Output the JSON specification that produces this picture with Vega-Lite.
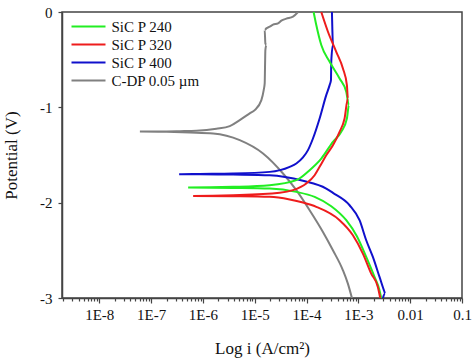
{
  "$schema": "https://vega.github.io/schema/vega-lite/v6.json",
  "width": 400,
  "height": 286,
  "autosize": {"type": "none"},
  "padding": {"left": 62, "top": 12, "right": 12, "bottom": 66},
  "background": "white",
  "config": {
    "view": {"stroke": "#444", "strokeWidth": 1.5},
    "font": "Liberation Serif, Times New Roman, DejaVu Serif, serif"
  },
  "data": {
    "values": [
      {"s": "C-DP 0.05 µm", "o": 1, "i": 6.84e-5, "E": 0},
      {"s": "C-DP 0.05 µm", "o": 2, "i": 5.48e-5, "E": -0.049},
      {"s": "C-DP 0.05 µm", "o": 3, "i": 4.07e-5, "E": -0.070},
      {"s": "C-DP 0.05 µm", "o": 4, "i": 3.265e-5, "E": -0.091},
      {"s": "C-DP 0.05 µm", "o": 5, "i": 2.815e-5, "E": -0.119},
      {"s": "C-DP 0.05 µm", "o": 6, "i": 2.255e-5, "E": -0.133},
      {"s": "C-DP 0.05 µm", "o": 7, "i": 1.945e-5, "E": -0.154},
      {"s": "C-DP 0.05 µm", "o": 8, "i": 1.678e-5, "E": -0.172},
      {"s": "C-DP 0.05 µm", "o": 9, "i": 1.558e-5, "E": -0.189},
      {"s": "C-DP 0.05 µm", "o": 10, "i": 1.605e-5, "E": -0.329},
      {"s": "C-DP 0.05 µm", "o": 11, "i": 1.678e-5, "E": -0.347},
      {"s": "C-DP 0.05 µm", "o": 12, "i": 1.605e-5, "E": -0.399},
      {"s": "C-DP 0.05 µm", "o": 13, "i": 1.581e-5, "E": -0.574},
      {"s": "C-DP 0.05 µm", "o": 14, "i": 1.558e-5, "E": -0.749},
      {"s": "C-DP 0.05 µm", "o": 15, "i": 1.491e-5, "E": -0.819},
      {"s": "C-DP 0.05 µm", "o": 16, "i": 1.344e-5, "E": -0.924},
      {"s": "C-DP 0.05 µm", "o": 17, "i": 1.0e-5, "E": -1.029},
      {"s": "C-DP 0.05 µm", "o": 18, "i": 8.01e-6, "E": -1.064},
      {"s": "C-DP 0.05 µm", "o": 19, "i": 5.14e-6, "E": -1.134},
      {"s": "C-DP 0.05 µm", "o": 20, "i": 3.30e-6, "E": -1.197},
      {"s": "C-DP 0.05 µm", "o": 21, "i": 1.825e-6, "E": -1.225},
      {"s": "C-DP 0.05 µm", "o": 22, "i": 7.52e-7, "E": -1.246},
      {"s": "C-DP 0.05 µm", "o": 23, "i": 3.59e-7, "E": -1.250},
      {"s": "C-DP 0.05 µm", "o": 24, "i": 1.479e-7, "E": -1.253},
      {"s": "C-DP 0.05 µm", "o": 25, "i": 6.08e-8, "E": -1.253},
      {"s": "C-DP 0.05 µm", "o": 26, "i": 1.99e-7, "E": -1.257},
      {"s": "C-DP 0.05 µm", "o": 27, "i": 5.60e-7, "E": -1.264},
      {"s": "C-DP 0.05 µm", "o": 28, "i": 1.574e-6, "E": -1.274},
      {"s": "C-DP 0.05 µm", "o": 29, "i": 5.14e-6, "E": -1.344},
      {"s": "C-DP 0.05 µm", "o": 30, "i": 1.448e-5, "E": -1.484},
      {"s": "C-DP 0.05 µm", "o": 31, "i": 3.515e-5, "E": -1.694},
      {"s": "C-DP 0.05 µm", "o": 32, "i": 6.35e-5, "E": -1.869},
      {"s": "C-DP 0.05 µm", "o": 33, "i": 1.147e-4, "E": -2.079},
      {"s": "C-DP 0.05 µm", "o": 34, "i": 2.073e-4, "E": -2.307},
      {"s": "C-DP 0.05 µm", "o": 35, "i": 3.23e-4, "E": -2.499},
      {"s": "C-DP 0.05 µm", "o": 36, "i": 5.04e-4, "E": -2.709},
      {"s": "C-DP 0.05 µm", "o": 37, "i": 6.28e-4, "E": -2.849},
      {"s": "C-DP 0.05 µm", "o": 38, "i": 7.51e-4, "E": -3.0},

      {"s": "SiC P 400", "o": 1, "i": 3.09e-4, "E": 0},
      {"s": "SiC P 400", "o": 2, "i": 3.14e-4, "E": -0.154},
      {"s": "SiC P 400", "o": 3, "i": 3.23e-4, "E": -0.347},
      {"s": "SiC P 400", "o": 4, "i": 3.00e-4, "E": -0.522},
      {"s": "SiC P 400", "o": 5, "i": 2.96e-4, "E": -0.714},
      {"s": "SiC P 400", "o": 6, "i": 2.79e-4, "E": -0.767},
      {"s": "SiC P 400", "o": 7, "i": 2.40e-4, "E": -0.872},
      {"s": "SiC P 400", "o": 8, "i": 1.788e-4, "E": -1.117},
      {"s": "SiC P 400", "o": 9, "i": 1.33e-4, "E": -1.327},
      {"s": "SiC P 400", "o": 10, "i": 1.066e-4, "E": -1.449},
      {"s": "SiC P 400", "o": 11, "i": 8.54e-5, "E": -1.526},
      {"s": "SiC P 400", "o": 12, "i": 6.35e-5, "E": -1.589},
      {"s": "SiC P 400", "o": 13, "i": 4.73e-5, "E": -1.624},
      {"s": "SiC P 400", "o": 14, "i": 1.945e-5, "E": -1.677},
      {"s": "SiC P 400", "o": 15, "i": 3.82e-6, "E": -1.694},
      {"s": "SiC P 400", "o": 16, "i": 8.72e-7, "E": -1.698},
      {"s": "SiC P 400", "o": 17, "i": 3.48e-7, "E": -1.701},
      {"s": "SiC P 400", "o": 18, "i": 8.72e-7, "E": -1.701},
      {"s": "SiC P 400", "o": 19, "i": 3.82e-6, "E": -1.705},
      {"s": "SiC P 400", "o": 20, "i": 1.945e-5, "E": -1.712},
      {"s": "SiC P 400", "o": 21, "i": 8.54e-5, "E": -1.771},
      {"s": "SiC P 400", "o": 22, "i": 2.40e-4, "E": -1.852},
      {"s": "SiC P 400", "o": 23, "i": 3.23e-4, "E": -1.897},
      {"s": "SiC P 400", "o": 24, "i": 6.77e-4, "E": -2.027},
      {"s": "SiC P 400", "o": 25, "i": 1.054e-3, "E": -2.184},
      {"s": "SiC P 400", "o": 26, "i": 1.418e-3, "E": -2.394},
      {"s": "SiC P 400", "o": 27, "i": 1.905e-3, "E": -2.569},
      {"s": "SiC P 400", "o": 28, "i": 2.56e-3, "E": -2.779},
      {"s": "SiC P 400", "o": 29, "i": 3.20e-3, "E": -2.937},
      {"s": "SiC P 400", "o": 30, "i": 3.29e-3, "E": -2.954},
      {"s": "SiC P 400", "o": 31, "i": 2.97e-3, "E": -3.0},

      {"s": "SiC P 240", "o": 1, "i": 1.370e-4, "E": 0},
      {"s": "SiC P 240", "o": 2, "i": 1.542e-4, "E": -0.137},
      {"s": "SiC P 240", "o": 3, "i": 1.925e-4, "E": -0.347},
      {"s": "SiC P 240", "o": 4, "i": 2.79e-4, "E": -0.522},
      {"s": "SiC P 240", "o": 5, "i": 4.34e-4, "E": -0.697},
      {"s": "SiC P 240", "o": 6, "i": 5.84e-4, "E": -0.837},
      {"s": "SiC P 240", "o": 7, "i": 6.57e-4, "E": -0.977},
      {"s": "SiC P 240", "o": 8, "i": 6.01e-4, "E": -1.117},
      {"s": "SiC P 240", "o": 9, "i": 4.68e-4, "E": -1.257},
      {"s": "SiC P 240", "o": 10, "i": 3.23e-4, "E": -1.362},
      {"s": "SiC P 240", "o": 11, "i": 1.925e-4, "E": -1.537},
      {"s": "SiC P 240", "o": 12, "i": 1.147e-4, "E": -1.659},
      {"s": "SiC P 240", "o": 13, "i": 6.35e-5, "E": -1.764},
      {"s": "SiC P 240", "o": 14, "i": 1.945e-5, "E": -1.817},
      {"s": "SiC P 240", "o": 15, "i": 3.82e-6, "E": -1.834},
      {"s": "SiC P 240", "o": 16, "i": 5.19e-7, "E": -1.841},
      {"s": "SiC P 240", "o": 17, "i": 3.82e-6, "E": -1.845},
      {"s": "SiC P 240", "o": 18, "i": 1.945e-5, "E": -1.852},
      {"s": "SiC P 240", "o": 19, "i": 6.35e-5, "E": -1.887},
      {"s": "SiC P 240", "o": 20, "i": 1.432e-4, "E": -1.939},
      {"s": "SiC P 240", "o": 21, "i": 3.00e-4, "E": -2.037},
      {"s": "SiC P 240", "o": 22, "i": 5.84e-4, "E": -2.184},
      {"s": "SiC P 240", "o": 23, "i": 9.37e-4, "E": -2.352},
      {"s": "SiC P 240", "o": 24, "i": 1.418e-3, "E": -2.569},
      {"s": "SiC P 240", "o": 25, "i": 2.05e-3, "E": -2.779},
      {"s": "SiC P 240", "o": 26, "i": 2.56e-3, "E": -2.919},
      {"s": "SiC P 240", "o": 27, "i": 2.76e-3, "E": -3.0},

      {"s": "SiC P 320", "o": 1, "i": 1.925e-4, "E": 0},
      {"s": "SiC P 320", "o": 2, "i": 2.59e-4, "E": -0.207},
      {"s": "SiC P 320", "o": 3, "i": 3.745e-4, "E": -0.417},
      {"s": "SiC P 320", "o": 4, "i": 5.04e-4, "E": -0.592},
      {"s": "SiC P 320", "o": 5, "i": 6.01e-4, "E": -0.767},
      {"s": "SiC P 320", "o": 6, "i": 6.28e-4, "E": -0.907},
      {"s": "SiC P 320", "o": 7, "i": 5.42e-4, "E": -1.117},
      {"s": "SiC P 320", "o": 8, "i": 4.34e-4, "E": -1.257},
      {"s": "SiC P 320", "o": 9, "i": 3.23e-4, "E": -1.397},
      {"s": "SiC P 320", "o": 10, "i": 2.40e-4, "E": -1.502},
      {"s": "SiC P 320", "o": 11, "i": 1.788e-4, "E": -1.624},
      {"s": "SiC P 320", "o": 12, "i": 1.432e-4, "E": -1.712},
      {"s": "SiC P 320", "o": 13, "i": 9.90e-5, "E": -1.799},
      {"s": "SiC P 320", "o": 14, "i": 5.48e-5, "E": -1.869},
      {"s": "SiC P 320", "o": 15, "i": 3.03e-5, "E": -1.897},
      {"s": "SiC P 320", "o": 16, "i": 3.82e-6, "E": -1.922},
      {"s": "SiC P 320", "o": 17, "i": 6.48e-7, "E": -1.929},
      {"s": "SiC P 320", "o": 18, "i": 3.82e-6, "E": -1.932},
      {"s": "SiC P 320", "o": 19, "i": 1.945e-5, "E": -1.939},
      {"s": "SiC P 320", "o": 20, "i": 4.73e-5, "E": -1.967},
      {"s": "SiC P 320", "o": 21, "i": 8.54e-5, "E": -1.999},
      {"s": "SiC P 320", "o": 22, "i": 1.542e-4, "E": -2.044},
      {"s": "SiC P 320", "o": 23, "i": 4.34e-4, "E": -2.184},
      {"s": "SiC P 320", "o": 24, "i": 7.85e-4, "E": -2.342},
      {"s": "SiC P 320", "o": 25, "i": 1.222e-3, "E": -2.534},
      {"s": "SiC P 320", "o": 26, "i": 1.77e-3, "E": -2.744},
      {"s": "SiC P 320", "o": 27, "i": 2.378e-3, "E": -2.884},
      {"s": "SiC P 320", "o": 28, "i": 2.64e-3, "E": -3.0}
    ]
  },
  "mark": {"type": "line", "strokeWidth": 2, "interpolate": "monotone", "clip": true},
  "encoding": {
    "x": {
      "field": "i",
      "type": "quantitative",
      "scale": {"type": "log", "domain": [1.91e-9, 0.1], "nice": false},
      "axis": {
        "title": "Log i (A/cm²)",
        "titleFontSize": 17,
        "titleFontWeight": "normal",
        "titleColor": "#111",
        "titleX": 200,
        "titleY": 50,
        "titleBaseline": "middle",
        "values": [2e-9, 3e-9, 4e-9, 5e-9, 6e-9, 7e-9, 8e-9, 9e-9,
                   1e-8, 2e-8, 3e-8, 4e-8, 5e-8, 6e-8, 7e-8, 8e-8, 9e-8,
                   1e-7, 2e-7, 3e-7, 4e-7, 5e-7, 6e-7, 7e-7, 8e-7, 9e-7,
                   1e-6, 2e-6, 3e-6, 4e-6, 5e-6, 6e-6, 7e-6, 8e-6, 9e-6,
                   1e-5, 2e-5, 3e-5, 4e-5, 5e-5, 6e-5, 7e-5, 8e-5, 9e-5,
                   1e-4, 2e-4, 3e-4, 4e-4, 5e-4, 6e-4, 7e-4, 8e-4, 9e-4,
                   1e-3, 2e-3, 3e-3, 4e-3, 5e-3, 6e-3, 7e-3, 8e-3, 9e-3,
                   0.01, 0.02, 0.03, 0.04, 0.05, 0.06, 0.07, 0.08, 0.09, 0.1],
        "labelExpr": "abs(log(datum.value)/LN10 - round(log(datum.value)/LN10)) < 0.000001 ? (datum.value > 0.05 ? '0.1' : (datum.value > 0.005 ? '0.01' : '1E' + round(log(datum.value)/LN10))) : ''",
        "labelOverlap": false,
        "labelFlush": false,
        "labelBound": false,
        "labelFontSize": 15,
        "labelColor": "#111",
        "labelPadding": 4,
        "grid": false,
        "domainColor": "#444",
        "domainWidth": 1.5,
        "tickColor": "#444",
        "tickWidth": 1.2,
        "tickSize": {"condition": {"test": "abs(log(datum.value)/LN10 - round(log(datum.value)/LN10)) < 0.000001", "value": 5}, "value": 3}
      }
    },
    "y": {
      "field": "E",
      "type": "quantitative",
      "scale": {"domain": [-3, 0], "nice": false},
      "axis": {
        "title": "Potential (V)",
        "titleFontSize": 17,
        "titleFontWeight": "normal",
        "titleColor": "#111",
        "titleX": -51,
        "titleY": 143,
        "titleAngle": -90,
        "titleBaseline": "middle",
        "values": [-3, -2, -1, 0],
        "labelExpr": "datum.value < 0 ? '-' + abs(datum.value) : '' + datum.value",
        "labelFontSize": 15,
        "labelColor": "#111",
        "labelPadding": 6,
        "grid": false,
        "domainColor": "#444",
        "domainWidth": 1.5,
        "tickColor": "#444",
        "tickWidth": 1.2,
        "tickSize": 4
      }
    },
    "color": {
      "field": "s",
      "type": "nominal",
      "scale": {
        "domain": ["SiC P 240", "SiC P 320", "SiC P 400", "C-DP 0.05 µm"],
        "range": ["#22ee22", "#ee1c1c", "#1010cc", "#808080"]
      },
      "legend": {
        "title": null,
        "orient": "none",
        "legendX": 17,
        "legendY": 5,
        "symbolType": "M-2,0H2",
        "symbolSize": 289,
        "symbolStrokeWidth": 2,
        "labelFontSize": 15,
        "labelColor": "#111",
        "labelOffset": 13.5,
        "rowPadding": 0,
        "padding": 0
      }
    },
    "order": {"field": "o", "type": "quantitative"}
  }
}
